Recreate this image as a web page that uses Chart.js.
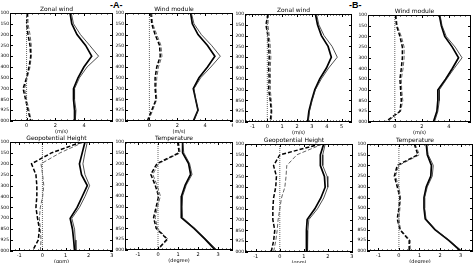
<!DOCTYPE html>
<html>
<head>
<meta charset="utf-8">
<script src="https://cdn.jsdelivr.net/npm/chart.js@4.4.0/dist/chart.umd.min.js"></script>
<style>
  body { margin: 0; background: #fff; }
  #fig { position: relative; width: 474px; height: 263px; overflow: hidden; background: #fff; }
  #fig canvas { position: absolute; }
  .tag { position: absolute; font: bold 9px "Liberation Sans", Arial, sans-serif; color: #000; }
</style>
</head>
<body>
<div id="fig">
  <div class="tag" style="left:110px; top:0px;">-A-</div>
  <div class="tag" style="left:349px; top:0px;">-B-</div>
</div>
<script>
// ===========================
// DATA (pressure levels, top to bottom)
// ===========================
const levels = ["100", "150", "200", "250", "300", "400", "500", "700", "850", "925", "1000"];

// -A- Zonal wind
const zonalA_thick     = [3.02, 3.14, 3.50, 4.10, 4.52, 3.98, 3.57, 3.26, 3.26, 3.33, 3.33];
const zonalA_thin      = [3.10, 3.26, 3.74, 4.38, 5.00, 4.20, 3.67, 3.33, 3.33, 3.43, 3.38];
const zonalA_dashThick = [0.05, 0.00, 0.10, 0.24, 0.29, 0.17, 0.00, -0.24, -0.07, 0.10, 0.29];
const zonalA_dashThin  = [0.10, 0.10, 0.24, 0.33, 0.33, 0.24, 0.05, -0.14, 0.00, 0.17, 0.33];

// -A- Wind module
const windA_thick      = [2.96, 3.08, 3.49, 4.17, 4.70, 4.17, 3.56, 3.15, 3.32, 3.49, 3.15];
const windA_thin       = [3.01, 3.20, 3.73, 4.46, 5.09, 4.41, 3.68, 3.20, 3.32, 3.49, 3.20];
const windA_dashThick  = [0.10, 0.17, 0.41, 0.73, 0.78, 0.53, 0.41, 0.41, 0.48, 0.17, -0.15];
const windA_dashThin   = [0.17, 0.24, 0.53, 0.83, 0.90, 0.65, 0.53, 0.48, 0.53, 0.24, -0.07];

// -B- Zonal wind
const zonalB_thick     = [3.24, 3.38, 3.64, 4.09, 4.31, 3.98, 3.53, 3.20, 2.98, 2.80, 2.71];
const zonalB_thin      = [3.31, 3.47, 3.82, 4.36, 4.71, 4.13, 3.64, 3.24, 3.02, 2.84, 2.76];
const zonalB_dashThick = [0.04, -0.09, 0.04, 0.09, 0.13, 0.09, 0.13, 0.09, 0.20, 0.27, 0.20];
const zonalB_dashThin  = [0.09, 0.04, 0.13, 0.20, 0.24, 0.20, 0.22, 0.20, 0.27, 0.31, 0.27];

// -B- Wind module
const windB_thick      = [3.29, 3.44, 3.69, 4.25, 4.71, 4.25, 3.75, 3.18, 3.18, 3.11, 2.85];
const windB_thin       = [3.34, 3.49, 3.80, 4.46, 4.97, 4.38, 3.82, 3.29, 3.29, 3.18, 2.93];
const windB_dashThick  = [0.05, 0.13, 0.38, 0.56, 0.56, 0.48, 0.38, 0.43, 0.48, 0.38, -0.71];
const windB_dashThin   = [0.10, 0.18, 0.48, 0.69, 0.69, 0.61, 0.48, 0.51, 0.59, 0.43, -0.59];

// -A- Geopotential Height
const geoA_thick       = [1.84, 1.72, 1.60, 1.69, 1.94, 1.72, 1.50, 1.20, 1.30, 1.35, 1.39];
const geoA_thin        = [1.94, 1.84, 1.75, 1.84, 2.04, 1.84, 1.60, 1.27, 1.39, 1.42, 1.45];
const geoA_dashThick   = [1.69, 0.39, -0.47, -0.28, -0.24, -0.24, -0.28, -0.21, -0.13, -0.18, -0.43];
const geoA_dashThin    = [1.79, 0.76, -0.06, 0.01, 0.06, 0.01, -0.09, -0.13, -0.09, -0.06, -0.09];

// -A- Temperature
const tempA_thick      = [1.23, 1.23, 1.53, 1.63, 1.36, 1.18, 1.15, 1.18, 1.80, 2.35, 2.86];
const tempA_thin       = [1.23, 1.29, 1.58, 1.70, 1.41, 1.23, 1.20, 1.23, 1.84, 2.40, 2.95];
const tempA_dashThick  = [0.98, 1.06, -0.05, -0.36, -0.14, 0.03, -0.09, -0.22, -0.09, 0.46, -0.05];
const tempA_dashThin   = [1.03, 1.11, 0.03, -0.26, -0.05, 0.12, -0.02, -0.14, -0.02, 0.50, 0.00];

// -B- Geopotential Height
const geoB_thick       = [1.83, 1.69, 1.69, 1.86, 1.89, 1.71, 1.46, 1.14, 1.11, 1.11, 1.11];
const geoB_thin        = [1.89, 1.79, 1.79, 1.97, 2.00, 1.83, 1.57, 1.21, 1.17, 1.17, 1.14];
const geoB_dashThick   = [1.71, 0.00, -0.26, -0.14, -0.17, -0.26, -0.29, -0.29, -0.21, -0.26, -0.36];
const geoB_dashThin    = [1.79, 0.71, 0.29, 0.26, 0.21, 0.07, 0.00, -0.07, -0.11, -0.17, -0.26];

// -B- Temperature
const tempB_thick      = [1.33, 1.38, 1.58, 1.55, 1.33, 1.22, 1.22, 1.28, 1.75, 2.42, 3.00];
const tempB_thin       = [1.35, 1.42, 1.67, 1.62, 1.38, 1.25, 1.25, 1.32, 1.78, 2.45, 3.05];
const tempB_dashThick  = [0.75, 0.92, -0.08, -0.22, -0.08, 0.05, 0.00, -0.08, 0.05, 0.50, 0.50];
const tempB_dashThin   = [0.78, 1.00, 0.00, -0.17, 0.00, 0.08, 0.05, 0.00, 0.08, 0.55, 0.55];

// x tick labels per panel type
const windTicksA  = [0, 2, 4];
const windTicksA2 = [0, 2, 4, 6];
const windTicksB  = [-1, 0, 1, 2, 3, 4, 5];
const windTicksB2 = [0, 2, 4];
const smallTicks  = [-1, 0, 1, 2, 3];

// ===========================
// PANEL LAYOUT
// ===========================
const FONT = "'DejaVu Sans', 'Liberation Sans', sans-serif";
const Y_W = 10, X_H = 13, TITLE_H = 8, PAD_R = 3;

const panels = [
    { title: "Zonal wind", unit: "(m/s)", min: -1.15, max: 6, ticks: windTicksA,
      s: [zonalA_thick, zonalA_thin, zonalA_dashThick, zonalA_dashThin], box: [10, 110, 13, 121] },
    { title: "Wind module", unit: "(m/s)", min: -1.75, max: 6, ticks: windTicksA2,
      s: [windA_thick, windA_thin, windA_dashThick, windA_dashThin], box: [125, 230, 13, 121] },
    { title: "Zonal wind", unit: "(m/s)", min: -1.5, max: 5.7, ticks: windTicksB,
      s: [zonalB_thick, zonalB_thin, zonalB_dashThick, zonalB_dashThin], box: [245, 349, 14, 122] },
    { title: "Wind module", unit: "(m/s)", min: -1.98, max: 5.63, ticks: windTicksB2,
      s: [windB_thick, windB_thin, windB_dashThick, windB_dashThin], box: [368, 468, 15, 122] },
    { title: "Geopotential Height", unit: "(gpm)", min: -1.4, max: 3.05, ticks: smallTicks,
      s: [geoA_thick, geoA_thin, geoA_dashThick, geoA_dashThin], box: [10, 110, 142, 251] },
    { title: "Temperature", unit: "(degree)", min: -1.65, max: 3.75, ticks: smallTicks,
      s: [tempA_thick, tempA_thin, tempA_dashThick, tempA_dashThin], box: [125, 230, 142, 250] },
    { title: "Geopotential Height", unit: "(gpm)", min: -1.45, max: 3.05, ticks: smallTicks,
      s: [geoB_thick, geoB_thin, geoB_dashThick, geoB_dashThin], box: [245, 350, 144, 252] },
    { title: "Temperature", unit: "(degree)", min: -1.55, max: 3.6, ticks: smallTicks,
      s: [tempB_thick, tempB_thin, tempB_dashThick, tempB_dashThin], box: [367, 470, 144, 251] }
];

// frame with inward ticks, like the original plots
const framePlugin = {
    id: "frame",
    afterDatasetsDraw(chart) {
        const { ctx, chartArea: a, scales: { x, y } } = chart;
        ctx.save();
        ctx.strokeStyle = "#000";
        ctx.lineWidth = 1;
        ctx.strokeRect(a.left + 0.5, a.top + 0.5, a.right - a.left - 1, a.bottom - a.top - 1);
        ctx.beginPath();
        y.ticks.forEach(t => {
            const py = Math.round(y.getPixelForValue(t.value)) + 0.5;
            ctx.moveTo(a.left, py); ctx.lineTo(a.left + 3, py);
            ctx.moveTo(a.right, py); ctx.lineTo(a.right - 3, py);
        });
        x.ticks.forEach(t => {
            const px = Math.round(x.getPixelForValue(t.value)) + 0.5;
            ctx.moveTo(px, a.bottom); ctx.lineTo(px, a.bottom - 3);
            ctx.moveTo(px, a.top); ctx.lineTo(px, a.top + 3);
        });
        const step = (x.ticks[1].value - x.ticks[0].value) / 5;
        for (let v = Math.ceil(x.min / step) * step; v <= x.max; v += step) {
            const px = Math.round(x.getPixelForValue(v)) + 0.5;
            ctx.moveTo(px, a.bottom); ctx.lineTo(px, a.bottom - 1.5);
            ctx.moveTo(px, a.top); ctx.lineTo(px, a.top + 1.5);
        }
        ctx.stroke();
        ctx.restore();
    }
};

function toPoints(arr) {
    return arr.map((v, i) => ({ x: v, y: i }));
}

function makePanel(p) {
    const [L, R, T, B] = p.box;
    const cv = document.createElement("canvas");
    cv.width = R - L + Y_W + PAD_R;
    cv.height = B - T + TITLE_H + X_H;
    cv.style.left = (L - Y_W) + "px";
    cv.style.top = (T - TITLE_H) + "px";
    document.getElementById("fig").appendChild(cv);

    const line = (data, width, dash, color) => ({
        data: data, borderColor: color || "#000", borderWidth: width, borderDash: dash,
        pointRadius: 0, tension: 0, fill: false
    });

    new Chart(cv.getContext("2d"), {
        type: "line",
        data: {
            datasets: [
                line([{ x: 0, y: 0 }, { x: 0, y: levels.length - 1 }], 1, [1, 1], "#666"),
                line(toPoints(p.s[3]), 0.7, [4, 2], "#222"),
                line(toPoints(p.s[2]), 1.5, [4, 2]),
                line(toPoints(p.s[1]), 0.8, [], "#222"),
                line(toPoints(p.s[0]), 1.7, [])
            ]
        },
        options: {
            responsive: false,
            animation: false,
            devicePixelRatio: 1,
            layout: { padding: 0 },
            plugins: {
                legend: { display: false },
                tooltip: { enabled: false },
                title: {
                    display: true, text: p.title, color: "#000",
                    font: { size: 6, family: FONT, lineHeight: 1, weight: "normal" },
                    padding: { top: 1, bottom: 1 }
                }
            },
            scales: {
                x: {
                    type: "linear", min: p.min, max: p.max,
                    grid: { display: false, drawTicks: false },
                    border: { display: false },
                    afterBuildTicks: s => { s.ticks = p.ticks.map(v => ({ value: v })); },
                    afterFit: s => { s.height = X_H; s.paddingLeft = 0; s.paddingRight = 0; },
                    ticks: { color: "#000", font: { size: 5, family: FONT }, padding: 2, maxRotation: 0, autoSkip: false },
                    title: { display: true, text: p.unit, color: "#000", font: { size: 5, family: FONT, lineHeight: 1 }, padding: 0 }
                },
                y: {
                    type: "linear", reverse: true, min: 0, max: levels.length - 1,
                    grid: { display: false, drawTicks: false },
                    border: { display: false },
                    afterBuildTicks: s => { s.ticks = levels.map((_, i) => ({ value: i })); },
                    afterFit: s => { s.width = Y_W; s.paddingTop = 0; s.paddingBottom = 0; },
                    ticks: {
                        color: "#000", font: { size: 4.5, family: FONT }, padding: 1, autoSkip: false,
                        callback: v => levels[v]
                    }
                }
            }
        },
        plugins: [framePlugin]
    });
}

panels.forEach(makePanel);
</script>
</body>
</html>
